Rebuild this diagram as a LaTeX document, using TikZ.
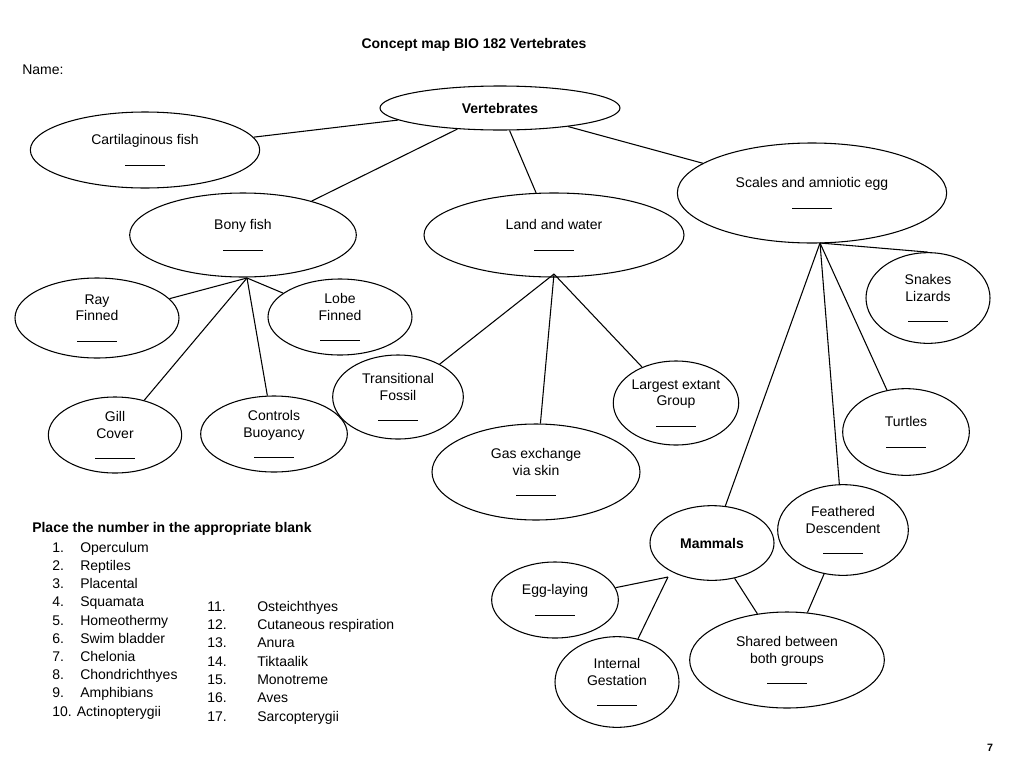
\documentclass[tikz,border=0pt]{standalone}
\usepackage{fontspec}
\setmainfont{Liberation Sans}
\usetikzlibrary{shapes.geometric}

\tikzstyle{concept} = [draw, ellipse, thick, inner sep=0pt, align=center, font=\fontsize{10.5}{12.5}\selectfont]
\tikzstyle{txt} = [anchor=base west, inner sep=0pt, font=\fontsize{10.5}{12.5}\selectfont]
\newcommand{\blank}{\\[3pt]\rule{30pt}{0.5pt}}

\begin{document}
\begin{tikzpicture}[x=0.75pt, y=-0.75pt]
  \useasboundingbox (0,0) rectangle (1024,764);

  \node [font=\fontsize{10.5}{12.5}\selectfont\bfseries] (title) at (474,45) {Concept map BIO 182 Vertebrates};
  \node [txt] (name) at (22,74) {Name:};

  \node [concept, minimum width=180pt, minimum height=33pt, font=\fontsize{10.5}{12.5}\selectfont\bfseries] (vert) at (500,108) {Vertebrates};
  \node [concept, minimum width=172pt, minimum height=57pt] (cart) at (145,150) {Cartilaginous fish\blank};
  \node [concept, minimum width=202pt, minimum height=75pt] (scales) at (812,193) {Scales and amniotic egg\blank};
  \node [concept, minimum width=170pt, minimum height=63pt] (bony) at (243,235) {Bony fish\blank};
  \node [concept, minimum width=195pt, minimum height=63pt] (land) at (554,235) {Land and water\blank};

  \node [concept, minimum width=123pt, minimum height=60pt] (ray) at (97,318) {Ray\\Finned\blank};
  \node [concept, minimum width=108pt, minimum height=57pt] (lobe) at (340,317) {Lobe\\Finned\blank};
  \node [concept, minimum width=93pt, minimum height=68pt] (snakes) at (928,298) {Snakes\\Lizards\blank};
  \node [concept, minimum width=98pt, minimum height=63pt] (trans) at (398,397) {Transitional\\Fossil\blank};
  \node [concept, minimum width=93pt, minimum height=63pt] (largest) at (676,403) {Largest extant\\Group\blank};
  \node [concept, minimum width=100pt, minimum height=57pt] (gill) at (115,435) {Gill\\Cover\blank};
  \node [concept, minimum width=110pt, minimum height=57pt] (buoy) at (274,434) {Controls\\Buoyancy\blank};
  \node [concept, minimum width=95pt, minimum height=65pt] (turtles) at (906,432) {Turtles\blank};
  \node [concept, minimum width=156pt, minimum height=72pt] (gas) at (536,472) {Gas exchange\\via skin\blank};

  \node [concept, minimum width=93pt, minimum height=56pt, font=\fontsize{10.5}{12.5}\selectfont\bfseries] (mammals) at (712,543) {Mammals};
  \node [concept, minimum width=98pt, minimum height=68pt] (feather) at (843,530) {Feathered\\Descendent\blank};
  \node [concept, minimum width=95pt, minimum height=57pt] (egg) at (555,600) {Egg-laying\blank};
  \node [concept, minimum width=146pt, minimum height=72pt] (shared) at (787,660) {Shared between\\both groups\blank};
  \node [concept, minimum width=93pt, minimum height=68pt] (internal) at (617,682) {Internal\\Gestation\blank};

  \coordinate (bony_h) at (247,278);
  \coordinate (land_h) at (554,274);
  \coordinate (scales_h) at (820,243);
  \coordinate (mam_h) at (668,577);

  \draw [thick] (vert) -- (cart);
  \draw [thick] (vert) -- (bony);
  \draw [thick] (vert) -- (land);
  \draw [thick] (vert) -- (scales);

  \draw [thick] (bony_h) -- (ray);
  \draw [thick] (bony_h) -- (lobe);
  \draw [thick] (bony_h) -- (gill);
  \draw [thick] (bony_h) -- (buoy);

  \draw [thick] (land_h) -- (trans);
  \draw [thick] (land_h) -- (gas);
  \draw [thick] (land_h) -- (largest);

  \draw [thick] (scales_h) -- (snakes.north);
  \draw [thick] (scales_h) -- (turtles);
  \draw [thick] (scales_h) -- (feather);
  \draw [thick] (scales_h) -- (mammals);

  \draw [thick] (mam_h) -- (egg);
  \draw [thick] (mam_h) -- (internal);
  \draw [thick] (mammals) -- (shared);
  \draw [thick] (feather) -- (shared);

  \node [txt, font=\fontsize{10.5}{12.5}\selectfont\bfseries] (place) at (32,532) {Place the number in the appropriate blank};
  \foreach \n/\t [count=\i] in {1./Operculum, 2./Reptiles, 3./Placental, 4./Squamata, 5./Homeothermy,
      6./Swim bladder, 7./Chelonia, 8./Chondrichthyes, 9./Amphibians} {
    \node [txt] (ln\i) at (52,534+18.2*\i) {\n};
    \node [txt] (lt\i) at (80,534+18.2*\i) {\t};
  }
  \node [txt] (ln10) at (52,716) {10. Actinopterygii};
  \foreach \n/\t [count=\i] in {11./Osteichthyes, 12./Cutaneous respiration, 13./Anura, 14./Tiktaalik,
      15./Monotreme, 16./Aves, 17./Sarcopterygii} {
    \node [txt] (rn\i) at (207,593+18.3*\i) {\n};
    \node [txt] (rt\i) at (257,593+18.3*\i) {\t};
  }

  \node [font=\footnotesize\bfseries] (page) at (990,748) {7};
\end{tikzpicture}
\end{document}
